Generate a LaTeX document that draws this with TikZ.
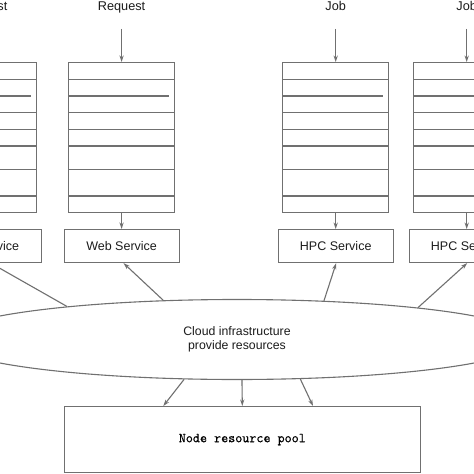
\documentclass[tikz,border=0pt]{standalone}
\usepackage{fontspec}
\setmainfont{Liberation Sans}
\newfontfamily\poolfont[FakeBold=0.6]{Latin Modern Mono}
\usetikzlibrary{arrows.meta,shapes.geometric}
\definecolor{linegray}{RGB}{112,112,112}
\definecolor{textgray}{RGB}{28,28,28}
\begin{document}
\begin{tikzpicture}[x=1bp,y=-1bp,
  line/.style={draw=linegray,line width=1.1bp},
  arr/.style={line,-{Stealth[length=6.5bp,width=4.2bp]}},
  stackbox/.style={line,rectangle,minimum width=106bp,minimum height=150bp,inner sep=0pt,anchor=north},
  svcbox/.style={line,rectangle,minimum width=115bp,minimum height=33bp,inner sep=0pt,anchor=north,text=textgray,font=\fontsize{12.5bp}{15bp}\selectfont},
  toplbl/.style={text=textgray,font=\fontsize{12.7bp}{15bp}\selectfont,inner sep=0pt,anchor=base},
  cloudnode/.style={line,ellipse,minimum width=586bp,minimum height=80bp,inner sep=0pt,text=textgray,align=center,font=\fontsize{12.3bp}{14.6bp}\selectfont},
  poolbox/.style={line,rectangle,minimum width=356bp,minimum height=66bp,inner sep=0pt,anchor=north,text=black,font=\poolfont\fontsize{13.7bp}{16bp}\selectfont}
]
\useasboundingbox (0,0) rectangle (474,474);
\clip (0,0) rectangle (474,474);
\fill[white] (0,0) rectangle (474,474);

% stacks, labels and services
\foreach \nm/\cx/\lab/\svc in {a/-16.3/Request/Web Service, b/121.6/Request/Web Service, c/335.7/Job/HPC Service, d/466.7/Job/HPC Service}{
  \node[toplbl] (lab\nm) at (\cx,10.5) {\lab};
  \coordinate (in\nm) at (\cx,29);
  \node[stackbox] (st\nm) at (\cx,62) {};
  \foreach \d in {17.3,50.7,67.3,84,107.3,134}{
    \draw[line] (st\nm.north west) ++(0,\d) -- ++(106,0);
  }
  \draw[line] (st\nm.north west) ++(0,34) -- ++(101,0);
  \node[svcbox] (sv\nm) at (\cx,229) {\svc};
  \draw[arr] (in\nm) -- (st\nm.north);
  \draw[arr] (st\nm.south) -- (sv\nm.north);
}

% cloud
\node[cloudnode] (cloud) at (237,339.5) {Cloud infrastructure\\provide resources};

% pool
\node[poolbox] (pool) at (242.3,406) {Node resource pool};

% connectors cloud -> services
\draw[arr] (cloud.169.1) -- ([xshift=7bp]sva.south);
\draw[arr] (cloud.152.3) -- ([xshift=1.9bp]svb.south);
\draw[arr] (cloud.24.5) -- ([xshift=0.5bp]svc.south);
\draw[arr] (cloud.10.3) -- ([xshift=0.5bp]svd.south);

% connectors cloud -> pool
\draw[arr] (cloud.217) -- ([xshift=-79bp]pool.north);
\draw[arr] (cloud.277.2) -- (pool.north);
\draw[arr] (cloud.328.2) -- ([xshift=70.7bp]pool.north);
\end{tikzpicture}
\end{document}
